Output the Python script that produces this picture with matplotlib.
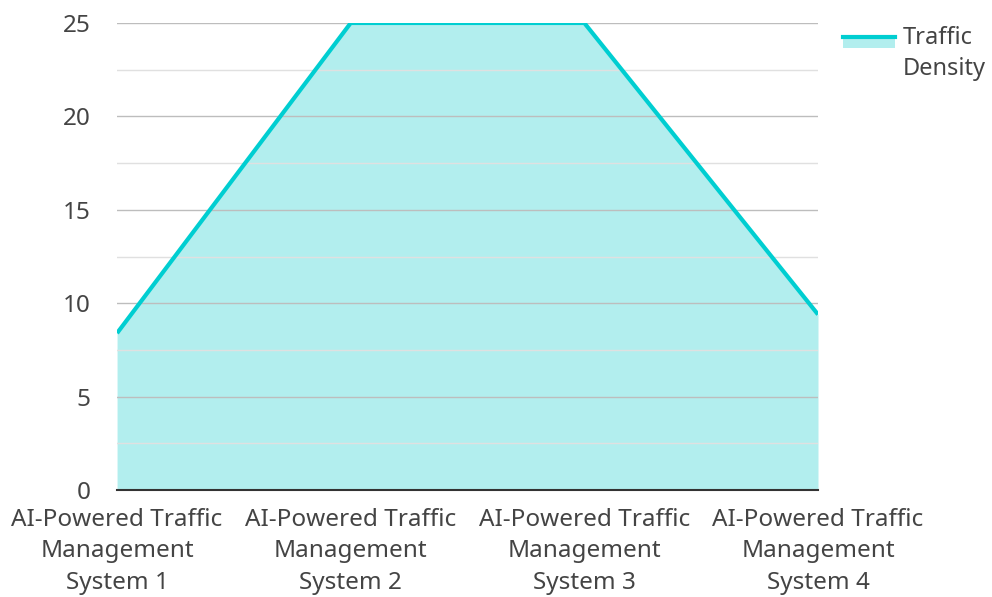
import matplotlib.pyplot as plt
from matplotlib.patches import Patch
from matplotlib.lines import Line2D
from matplotlib.legend_handler import HandlerBase

plt.rcParams['font.family'] = ['Noto Sans', 'DejaVu Sans']

categories = ["AI-Powered Traffic\nManagement\nSystem 1",
              "AI-Powered Traffic\nManagement\nSystem 2",
              "AI-Powered Traffic\nManagement\nSystem 3",
              "AI-Powered Traffic\nManagement\nSystem 4"]
traffic_density = [8.4, 25, 25, 9.4]

line_color = "#00CED1"
fill_color = "#B2EEEE"
text_color = "#333333"


class LineOnPatch(HandlerBase):
    # filled box with the line along its top edge, level with the first text line
    def create_artists(self, legend, orig_handle, xdescent, ydescent,
                       width, height, fontsize, trans):
        top = height * 0.8 + 0.55 * fontsize - ydescent
        box = plt.Rectangle((-xdescent, top - 0.5 * fontsize), width, 0.5 * fontsize,
                            facecolor=fill_color, edgecolor="none", transform=trans)
        ln = Line2D([-xdescent, -xdescent + width], [top, top],
                    color=line_color, lw=3, transform=trans)
        return [box, ln]


fig = plt.figure(figsize=(9.92, 5.97), dpi=100)
ax = fig.add_axes([0.118, 0.179, 0.7066, 0.7825])

x = list(range(len(categories)))
ax.fill_between(x, traffic_density, 0, color=fill_color, lw=0, zorder=1)
ax.plot(x, traffic_density, color=line_color, lw=3, zorder=3, solid_capstyle="butt")

ax.set_xlim(0, len(categories) - 1)
ax.set_ylim(0, 25)
ax.set_yticks([0, 5, 10, 15, 20, 25])
ax.set_yticks([2.5, 7.5, 12.5, 17.5, 22.5], minor=True)
ax.set_xticks(x)
ax.set_xticklabels(categories, linespacing=1.4)

ax.grid(True, axis="y", which="major", color="#bdbdbd", lw=1, zorder=2)
ax.grid(True, axis="y", which="minor", color="#e0e0e0", lw=1, zorder=2)
ax.set_axisbelow(False)

for s in ["top", "right", "left"]:
    ax.spines[s].set_visible(False)
ax.spines["bottom"].set_color(text_color)
ax.spines["bottom"].set_linewidth(1.5)
ax.spines["bottom"].set_zorder(4)

ax.tick_params(axis="both", which="both", length=0, labelsize=17.5, colors="#444444")
ax.tick_params(axis="y", pad=19)
ax.tick_params(axis="x", pad=13)

handle = Patch(facecolor=fill_color)
fig.legend([handle], ["Traffic\nDensity"], handler_map={Patch: LineOnPatch()},
           loc="upper left", bbox_to_anchor=(0.84, 0.972), frameon=False,
           fontsize=17, labelcolor="#444444", handlelength=2.2, handletextpad=0.35,
           borderaxespad=0)
for t in fig.legends[0].get_texts():
    t.set_linespacing(1.4)

fig.savefig("out.png", dpi=100)
